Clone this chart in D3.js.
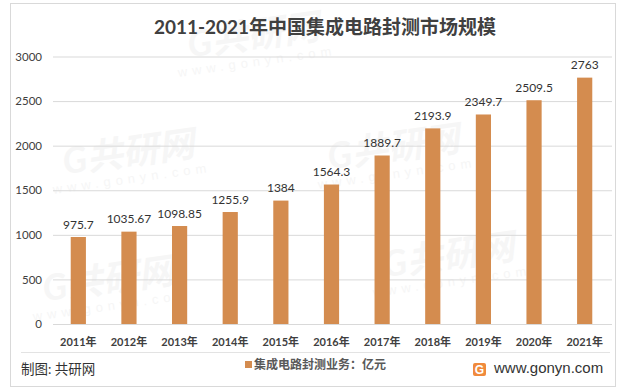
<!DOCTYPE html>
<html>
<head>
<meta charset="utf-8">
<script src="https://cdn.jsdelivr.net/npm/d3@7"></script>
<style>
  body { margin: 0; background: #fff; }
  svg { display: block; font-family: Lato, "Noto Sans CJK SC", sans-serif; }
</style>
</head>
<body>
<div id="chart"></div>
<script>
// chart data
const years = ["2011年", "2012年", "2013年", "2014年", "2015年", "2016年", "2017年", "2018年", "2019年", "2020年", "2021年"];
const values = [975.7, 1035.67, 1098.85, 1255.9, 1384, 1564.3, 1889.7, 2193.9, 2349.7, 2509.5, 2763];
const valueLabels = ["975.7", "1035.67", "1098.85", "1255.9", "1384", "1564.3", "1889.7", "2193.9", "2349.7", "2509.5", "2763"];
const yTicks = [0, 500, 1000, 1500, 2000, 2500, 3000];

const title = "2011-2021年中国集成电路封测市场规模";
const legendLabel = "集成电路封测业务：亿元";
const sourceLabel = "制图: 共研网";
const siteLabel = "www.gonyn.com";

const width = 624, height = 391;
const margin = {top: 56.5, right: 14, bottom: 67, left: 53};
const barColor = "#d48c4f";

const svg = d3.select("#chart")
  .append("svg")
  .attr("width", width)
  .attr("height", height)
  .attr("viewBox", [0, 0, width, height]);

// faint watermarks in the background
const marks = [
  {x: 255, y: 48}, {x: 395, y: 160}, {x: 130, y: 165}, {x: 450, y: 268}, {x: 110, y: 292}
];
const wm = svg.append("g").attr("fill", "#f6f6f6");
marks.forEach(m => {
  const g = wm.append("g").attr("transform", `translate(${m.x},${m.y}) rotate(-8)`);
  g.append("text")
    .attr("text-anchor", "middle")
    .attr("font-size", 36)
    .attr("font-weight", "bold")
    .attr("font-style", "italic")
    .text("G共研网");
  g.append("text")
    .attr("text-anchor", "middle")
    .attr("y", 18)
    .attr("font-size", 13)
    .attr("letter-spacing", 5)
    .attr("font-family", "Liberation Sans, sans-serif")
    .text("www.gonyn.com");
});

// outer frame
svg.append("rect")
  .attr("x", 10.5)
  .attr("y", 3.5)
  .attr("width", 605)
  .attr("height", 383)
  .attr("fill", "none")
  .attr("stroke", "#d9d9d9");

// title
svg.append("text")
  .attr("x", 325)
  .attr("y", 34)
  .attr("text-anchor", "middle")
  .attr("font-size", 19)
  .attr("font-weight", "bold")
  .attr("fill", "#404040")
  .text(title);

// scales
const xScale = d3.scaleBand()
  .domain(years)
  .range([margin.left, width - margin.right]);

const yScale = d3.scaleLinear()
  .domain([0, 3000])
  .range([height - margin.bottom, margin.top]);

// gridlines + y labels
svg.append("g")
  .attr("transform", `translate(${margin.left},0)`)
  .call(d3.axisLeft(yScale).tickValues(yTicks).tickFormat(d3.format("d"))
    .tickSize(-(width - margin.right - margin.left + 2)).tickPadding(11))
  .call(g => g.select(".domain").remove())
  .call(g => g.selectAll(".tick line").attr("stroke", "#d9d9d9"))
  .call(g => g.selectAll(".tick text")
    .attr("fill", "#404040")
    .attr("font-size", 11.5)
    .attr("font-family", "Lato, sans-serif"));

// bars
const barW = xScale.bandwidth() * 0.3;
svg.selectAll("rect.bar")
  .data(values)
  .enter()
  .append("rect")
  .attr("class", "bar")
  .attr("x", (d, i) => xScale(years[i]) + (xScale.bandwidth() - barW) / 2)
  .attr("width", barW)
  .attr("y", d => yScale(d))
  .attr("height", d => yScale(0) - yScale(d))
  .attr("fill", barColor);

// data labels
svg.selectAll("text.val")
  .data(values)
  .enter()
  .append("text")
  .attr("class", "val")
  .attr("x", (d, i) => xScale(years[i]) + xScale.bandwidth() / 2)
  .attr("y", d => yScale(d) - 8.5)
  .attr("text-anchor", "middle")
  .attr("font-size", 12)
  .attr("fill", "#333")
  .text((d, i) => valueLabels[i]);

// x axis
svg.append("g")
  .attr("transform", `translate(0,${yScale(0)})`)
  .call(d3.axisBottom(xScale).tickSize(0).tickPadding(14))
  .call(g => g.select(".domain").attr("stroke", "#d9d9d9"))
  .call(g => g.selectAll(".tick text")
    .attr("fill", "#404040")
    .attr("font-size", 11)
    .attr("font-weight", "bold")
    .attr("font-family", "Lato, 'Noto Sans CJK SC', sans-serif"));

// separator under the axis labels
svg.append("line")
  .attr("x1", 21)
  .attr("x2", 610)
  .attr("y1", 352.5)
  .attr("y2", 352.5)
  .attr("stroke", "#e3e3e3");

// legend
svg.append("rect")
  .attr("x", 245)
  .attr("y", 361)
  .attr("width", 7)
  .attr("height", 7)
  .attr("fill", barColor);
svg.append("text")
  .attr("x", 254)
  .attr("y", 369)
  .attr("font-size", 12)
  .attr("font-weight", "bold")
  .attr("fill", "#595959")
  .text(legendLabel);

// footer
svg.append("text")
  .attr("x", 21)
  .attr("y", 374)
  .attr("font-size", 13.5)
  .attr("fill", "#333")
  .text(sourceLabel);

const logo = svg.append("g").attr("transform", "translate(473,363)");
logo.append("rect")
  .attr("width", 13)
  .attr("height", 13)
  .attr("rx", 2)
  .attr("fill", "#f08a3c");
logo.append("text")
  .attr("x", 6.5)
  .attr("y", 11)
  .attr("text-anchor", "middle")
  .attr("font-size", 12)
  .attr("font-weight", "bold")
  .attr("fill", "#fff")
  .attr("font-family", "Liberation Sans, sans-serif")
  .text("G");

svg.append("text")
  .attr("x", 494)
  .attr("y", 372.5)
  .attr("font-size", 15)
  .attr("fill", "#333")
  .attr("font-family", "Liberation Sans, sans-serif")
  .text(siteLabel);
</script>
</body>
</html>
